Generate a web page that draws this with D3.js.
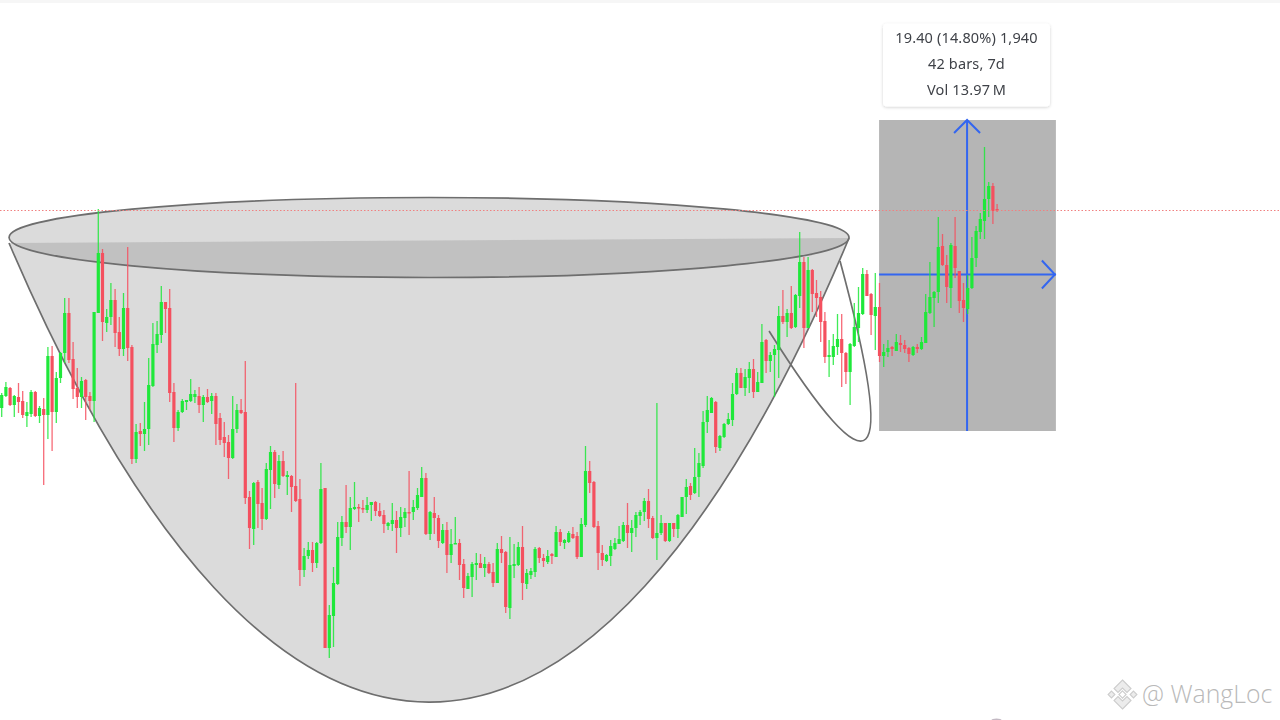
<!DOCTYPE html>
<html>
<head>
<meta charset="utf-8">
<script src="https://cdn.jsdelivr.net/npm/d3@7"></script>
<style>
html,body{margin:0;padding:0;background:#fff;overflow:hidden}
svg{display:block}
</style>
</head>
<body>
<svg id="chart" width="1280" height="720"></svg>
<script>
const opens=[312,324,332,315,323,319,304,306,328,304,311,305,364,308,342,367,407,361,332,323,340,324,319,407,467,397,403,420,388,371,412,373,261,289,286,291,334,375,385,418,412,328,292,308,318,319,323,324,315,323,319,324,302,283,278,262,291,310,308,223,191,238,217,201,250,268,235,259,243,244,234,221,150,164,170,157,177,232,72,104,136,182,198,193,211,213,212,210,215,218,209,205,194,196,200,192,202,208,208,212,223,242,186,207,202,177,190,165,176,177,156,131,143,155,157,152,156,148,137,171,168,112,154,155,173,136,145,148,172,162,158,166,163,188,177,178,186,184,163,195,249,238,194,167,159,164,171,176,179,195,187,192,204,208,219,202,182,187,197,179,197,191,203,223,234,227,243,254,298,307,318,272,283,296,300,326,347,332,342,351,328,337,380,359,365,370,404,398,407,393,424,458,392,450,427,423,399,363,363,373,381,367,348,374,392,406,446,426,404,413,364,368,373,369,377,375,372,365,373,371,377,407,422,428,474,455,432,474,449,420,411,432,462,488,499,521,534,511];
const closes=[325,333,315,324,318,305,308,328,304,312,305,364,308,342,367,407,360,331,323,339,323,319,408,467,398,403,420,387,371,412,372,261,288,286,291,335,376,386,418,411,327,292,308,319,320,326,326,315,323,318,324,296,280,277,262,291,310,307,222,192,237,216,201,251,268,236,259,244,245,233,219,150,164,170,157,177,231,72,105,137,183,198,193,212,213,212,211,215,218,209,204,196,197,200,192,203,208,207,213,225,242,186,208,202,179,190,165,176,177,155,132,144,156,157,152,156,147,137,171,167,113,155,156,173,137,147,149,171,162,159,164,164,188,178,180,187,182,163,196,249,237,193,167,160,165,174,177,181,195,187,192,205,208,219,201,182,187,197,179,197,191,205,223,233,225,243,257,298,310,322,273,284,296,301,326,347,332,343,351,328,338,378,359,365,371,404,398,407,392,425,458,392,450,426,422,398,363,365,374,381,367,348,376,393,407,446,424,405,413,364,368,372,371,378,375,371,366,373,371,378,408,423,428,473,455,433,475,452,419,412,432,462,489,501,521,534,509,510];
const highs=[327,338,333,325,337,329,318,330,329,314,322,373,374,348,368,422,422,378,352,343,341,328,408,511,471,411,437,431,403,427,473,375,296,297,318,362,397,399,434,418,431,337,310,321,320,341,330,333,325,331,327,327,307,298,285,324,316,321,359,229,238,240,232,257,274,270,265,269,249,245,337,241,172,178,178,178,257,232,115,153,198,204,235,223,238,216,220,223,218,219,217,210,198,217,209,213,212,249,220,232,253,247,209,223,205,196,198,191,203,181,161,147,158,167,166,163,158,157,177,184,169,183,176,178,194,151,152,173,173,166,170,167,194,191,181,189,193,188,202,274,259,239,199,175,166,180,182,194,198,217,200,208,210,222,231,204,317,205,197,197,197,206,223,241,237,272,267,309,324,323,319,285,297,307,337,352,352,351,358,361,348,396,381,368,375,414,430,411,434,426,488,463,463,451,440,429,408,380,386,406,406,368,377,417,433,452,450,427,447,437,376,380,374,386,385,380,373,374,376,383,426,458,429,503,486,465,477,503,449,437,445,483,494,507,573,538,537,516];
const lows=[303,323,314,303,307,302,293,303,303,297,235,281,269,297,337,357,357,321,312,312,300,310,298,407,379,388,395,373,364,364,359,256,257,274,269,275,333,367,377,387,318,278,289,307,310,318,317,307,298,317,306,275,275,263,241,261,287,306,216,171,175,192,190,200,211,222,231,243,225,208,218,134,143,161,148,152,176,72,62,73,135,174,187,170,210,198,207,207,199,204,203,187,190,189,167,183,193,185,200,210,223,185,180,186,172,176,147,157,176,140,122,131,123,140,152,143,146,133,137,157,107,101,142,154,120,131,141,143,157,153,156,156,163,174,171,177,181,161,163,193,227,192,150,154,158,154,170,176,178,172,168,183,195,199,192,181,160,185,178,178,183,182,203,206,220,226,223,252,287,307,267,269,282,295,294,325,332,324,327,322,328,337,347,348,323,342,396,383,391,392,412,372,392,408,403,378,357,343,355,365,333,336,315,373,378,405,424,385,370,358,353,363,364,369,368,367,358,364,367,370,377,406,393,417,454,417,412,442,407,398,406,431,453,481,481,503,496,508];
const tooltipLines=["19.40 (14.80%) 1,940","42 bars, 7d","Vol 13.97\u2009M"];
const watermark="@ WangLoc";
const lastPriceLevel=509.5;
const measureBars=[208.9,251];
const measureLevels=[289,600];

const GREEN="#1fe83a", RED="#f4505f", OUTLINE="#6e6e6e", BLUE="#3366f0";
const svg=d3.select("#chart");
const x=d3.scaleLinear().domain([0,237]).range([1.7,997.1]);
const y=d3.scaleLinear().domain([0,720]).range([720,0]);
const P=(b,l)=>[x(b),y(l)];

svg.append("rect").attr("x",0).attr("y",0).attr("width",1280).attr("height",3).attr("fill","#f6f6f6");

const root=svg.append("g").style("filter","blur(0.5px)");

// cup bowl
const bowl=d3.path();
{
  const a=P(1.74,477),b=P(64,-136),c=P(140,-136),d=P(201.75,482);
  bowl.moveTo(a[0],a[1]);bowl.bezierCurveTo(b[0],b[1],c[0],c[1],d[0],d[1]);
}
root.append("path").attr("d",bowl.toString()+"Z").attr("fill","#808080").attr("fill-opacity",0.285);
root.append("path").attr("d",bowl.toString()).attr("fill","none").attr("stroke",OUTLINE).attr("stroke-width",1.7);
// rim
const rimC=P(101.75,482.5);
root.append("ellipse").attr("cx",rimC[0]).attr("cy",rimC[1]).attr("rx",x(201.75)-rimC[0]).attr("ry",y(442.5)-rimC[1])
  .attr("fill","#808080").attr("fill-opacity",0.285).attr("stroke",OUTLINE).attr("stroke-width",1.7);
// handle
const handle=d3.path();
{
  const a=P(182.7,389),b=P(220.3,138),c=P(199.6,459);
  handle.moveTo(a[0],a[1]);handle.quadraticCurveTo(b[0],b[1],c[0],c[1]);
}
root.append("path").attr("d",handle.toString()).attr("fill","none").attr("stroke",OUTLINE).attr("stroke-width",1.7);

// measure box
const mx0=x(measureBars[0]),mx1=x(measureBars[1]),my0=y(measureLevels[1]),my1=y(measureLevels[0]);
const mcx=x(229.85),mcy=y(445.5);
root.append("rect").attr("x",mx0).attr("y",my0).attr("width",mx1-mx0).attr("height",my1-my0).attr("fill","#b5b5b5");
const blue=root.append("g").attr("stroke",BLUE).attr("stroke-width",2).attr("fill","none");
blue.append("line").attr("x1",mcx).attr("x2",mcx).attr("y1",my0).attr("y2",my1);
blue.append("line").attr("x1",mx0).attr("x2",mx1).attr("y1",mcy).attr("y2",mcy);
blue.append("path").attr("d",`M${mcx-13},${my0+13}L${mcx},${my0}L${mcx+13},${my0+13}`);
blue.append("path").attr("d",`M${mx1-14},${mcy-14}L${mx1-1},${mcy}L${mx1-14},${mcy+14}`);

// candles
const candles=d3.range(opens.length);
const col=i=>closes[i]>=opens[i]?GREEN:RED;
root.append("g").selectAll("line").data(candles).join("line")
  .attr("x1",i=>x(i)).attr("x2",i=>x(i)).attr("y1",i=>y(highs[i])).attr("y2",i=>y(lows[i]))
  .attr("stroke",col).attr("stroke-width",1.3).attr("stroke-opacity",.85);
root.append("g").selectAll("rect").data(candles).join("rect")
  .attr("x",i=>x(i)-1.6).attr("width",3.2)
  .attr("y",i=>Math.min(y(opens[i]),y(closes[i])))
  .attr("height",i=>Math.max(1.5,Math.abs(y(opens[i])-y(closes[i]))))
  .attr("fill",col);

// last price line
root.append("line").attr("x1",0).attr("x2",1280).attr("y1",y(lastPriceLevel)).attr("y2",y(lastPriceLevel))
  .attr("stroke","#f08080").attr("stroke-width",1).attr("stroke-dasharray","1.5 2");

// tooltip
const defs=svg.append("defs");
const f=defs.append("filter").attr("id","sh").attr("x","-10%").attr("y","-10%").attr("width","120%").attr("height","130%");
f.append("feDropShadow").attr("dx",0).attr("dy",1).attr("stdDeviation",1.5).attr("flood-color","#000").attr("flood-opacity",.18);
svg.append("rect").attr("x",883).attr("y",23.5).attr("width",167).attr("height",83).attr("rx",4).attr("fill","#fff").attr("filter","url(#sh)");
svg.selectAll("text.tip").data(tooltipLines).join("text").attr("class","tip")
  .attr("x",966.5).attr("y",(d,i)=>43+i*26).attr("text-anchor","middle")
  .attr("font-family","'Noto Sans',sans-serif").attr("font-size",14.5).attr("letter-spacing",0.15).attr("fill","#3f4248")
  .style("filter","blur(0.3px)").text(d=>d);

// watermark
const wm=svg.append("g").attr("fill","#ececec").attr("stroke","#cdcdcd").attr("stroke-width",1.1).style("filter","blur(0.4px)");
const diamond=(cx,cy,r)=>`M${cx},${cy-r}L${cx+r},${cy}L${cx},${cy+r}L${cx-r},${cy}Z`;
wm.append("path").attr("d","M1122.5,680L1131,688.5L1127,692.5L1122.5,688L1118,692.5L1114,688.5Z");
wm.append("path").attr("d",diamond(1111.5,694.5,3.4));
wm.append("path").attr("d",diamond(1133.5,694.5,3.4));
wm.append("path").attr("d",diamond(1122.5,694.5,3.6)).attr("fill","#fff");
wm.append("path").attr("d","M1122.5,709L1131,700.5L1127,696.5L1122.5,701L1118,696.5L1114,700.5Z");
svg.append("text").attr("x",1142).attr("y",703).attr("font-family","'Open Sans',sans-serif").attr("font-weight",300)
  .attr("font-size",24.8).attr("fill","#b9b9b9").text(watermark);

// clipped edge of a mark at the bottom border
svg.append("ellipse").attr("cx",996.5).attr("cy",720).attr("rx",5).attr("ry",1.6).attr("fill","#b4a8b4").attr("fill-opacity",.8);
</script>
</body>
</html>
